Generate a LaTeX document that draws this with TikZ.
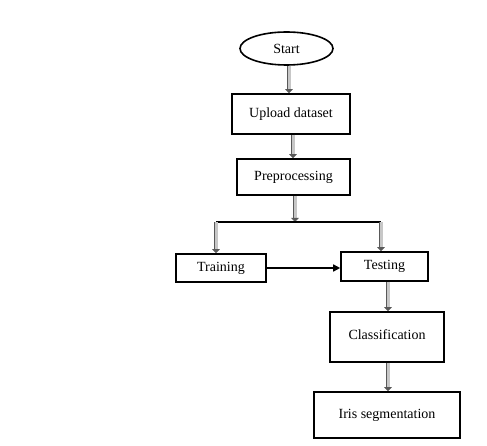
\documentclass[tikz,border=0pt]{standalone}
\usepackage{fontspec}
\setmainfont{Liberation Serif}
\usetikzlibrary{arrows.meta,shapes.geometric}
\begin{document}
\begin{tikzpicture}[x=1pt,y=-1pt,
  boxnode/.style={draw=black, line width=1.6pt, minimum width=#1, inner sep=0pt, font=\fontsize{14}{16}\selectfont},
  harrow/.style={draw=black!65, double=black!22, double distance=3pt, line width=0.8pt, -{Triangle[length=4pt,width=7.5pt]}},
  sarrow/.style={draw=black, line width=1.6pt, -{Triangle[length=7pt,width=7pt]}},
  busline/.style={draw=black, line width=1.6pt}]
\useasboundingbox (0,0) rectangle (487,446);
\node[boxnode=93pt, ellipse, minimum height=33pt] (start) at (286.5,48.5) {\raisebox{-1.5pt}{Start}};
\node[boxnode=118pt, minimum height=40pt] (upload) at (291,114) {\raisebox{3pt}{Upload dataset}};
\node[boxnode=113pt, minimum height=36pt] (prep) at (293.5,177) {\raisebox{1.5pt}{Preprocessing}};
\node[boxnode=90pt, minimum height=28pt] (train) at (221,268) {Training};
\node[boxnode=87pt, minimum height=29pt] (test) at (384.5,266.5) {Testing};
\node[boxnode=114pt, minimum height=50pt] (class) at (387,337) {\raisebox{4.5pt}{Classification}};
\node[boxnode=146pt, minimum height=46pt] (iris) at (387,415) {Iris segmentation};
\coordinate (busL) at (216,222);
\coordinate (busR) at (381,222);
\draw[harrow] ([xshift=2.5pt]start.south) -- ([xshift=2.5pt]start.south |- upload.north);
\draw[harrow] ([xshift=2pt]upload.south) -- ([xshift=2pt]upload.south |- prep.north);
\draw[harrow] ([xshift=1.5pt]prep.south) -- ([xshift=1.5pt]prep.south |- busL);
\draw[busline] (busL) -- (busR);
\draw[harrow] (busL) -- (busL |- train.north);
\draw[harrow] (busR) -- (busR |- test.north);
\draw[harrow] ([xshift=3.5pt]test.south) -- ([xshift=3.5pt]test.south |- class.north);
\draw[harrow] ([xshift=1pt]class.south) -- ([xshift=1pt]class.south |- iris.north);
\draw[sarrow] (train.east) -- (train.east -| test.west);
\end{tikzpicture}
\end{document}
